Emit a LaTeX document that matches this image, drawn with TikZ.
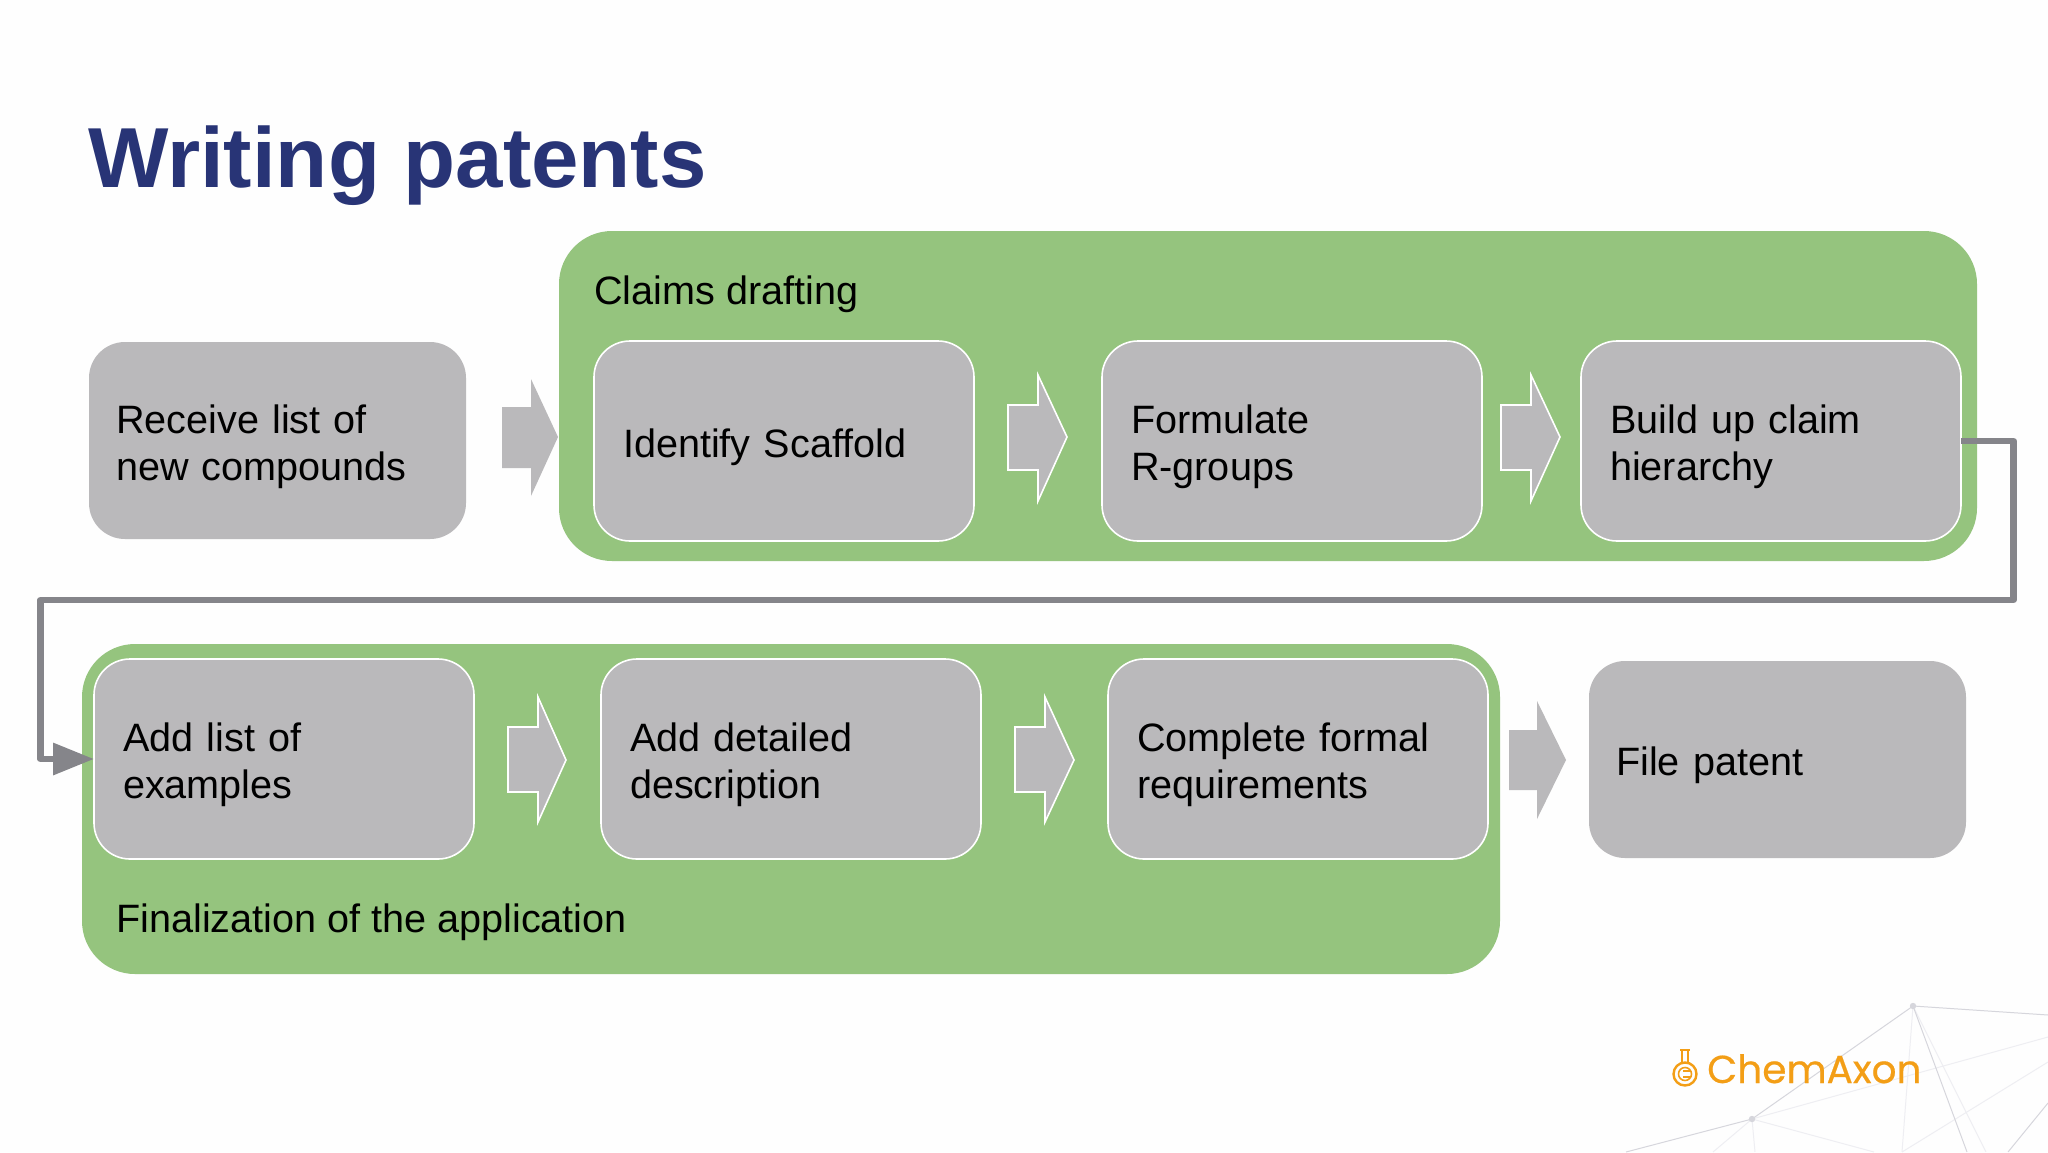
\documentclass[tikz,border=0pt]{standalone}
\usepackage{fontspec}
\setmainfont{Liberation Sans}
\newfontfamily\logofont[FakeBold=0.5]{Poppins}
\usetikzlibrary{arrows.meta}
\definecolor{panelgreen}{RGB}{149,196,126}
\definecolor{boxgrey}{RGB}{186,185,187}
\definecolor{linkgrey}{RGB}{133,133,138}
\definecolor{titlenavy}{RGB}{40,52,118}
\definecolor{logoorange}{RGB}{243,158,22}
\definecolor{netgrey}{RGB}{214,214,220}
\definecolor{netfaint}{RGB}{238,238,242}
\tikzset{
  x=1pt,y=-1pt,
  body/.style={font=\fontsize{39.6}{47}\selectfont,text=black},
  panel/.style={fill=panelgreen,rounded corners=53pt,anchor=north west,inner sep=0pt,outer sep=0pt,minimum width=1418pt,minimum height=330pt},
  stepbox/.style={body,fill=boxgrey,rounded corners=36pt,anchor=north west,inner xsep=29pt,inner ysep=0pt,outer sep=0pt,align=left,minimum height=200pt,text width=322pt,execute at begin node={\rule{0pt}{41pt}}},
  whitebox/.style={stepbox,draw=white,line width=1.6pt},
  plainbox/.style={stepbox,inner xsep=27pt,text width=323pt,minimum height=197pt},
  lbl/.style={body,anchor=base west,inner sep=0pt},
  chev/.style={fill=boxgrey,draw=white,line width=1.6pt,line join=miter},
  chevplain/.style={fill=boxgrey},
  link/.style={draw=linkgrey,line width=6.5pt,line join=round,-{Triangle[length=41pt,width=31pt,fill=linkgrey]}},
  netline/.style={draw=netgrey,line width=1pt},
  netlight/.style={draw=netfaint,line width=1pt},
}
% block arrow: style, x-tail, x-neck, x-tip, y-top, y-shaft-top, y-mid, y-shaft-bottom, y-bottom
\newcommand{\blockarrow}[9]{\path[#1] (#2,#6) -- (#3,#6) -- (#3,#5) -- (#4,#7) -- (#3,#9) -- (#3,#8) -- (#2,#8) -- cycle;}
\begin{document}
\begin{tikzpicture}
\useasboundingbox (0,0) rectangle (2048,1152);
\fill[white!99.5!black] (0,0) rectangle (2048,1152);
% background network
\coordinate (na) at (1913,1006);
\coordinate (nb) at (1752,1119);
\draw[netlight] (nb) -- (2048,1037);
\draw[netlight] (nb) -- (1713,1152);
\draw[netlight] (nb) -- (1755,1152);
\draw[netlight] (nb) -- (1874,1152);
\draw[netlight] (na) -- (1986,1152);
\draw[netlight] (na) -- (1902,1152);
\draw[netlight] (1902,1152) -- (2048,1062);
\draw[netline] (na) -- (2048,1015);
\draw[netline] (na) -- (nb);
\draw[netline] (nb) -- (1626,1152);
\draw[netline] (na) -- (1967,1152);
\draw[netline] (2008,1152) -- (2048,1103);
\fill[netgrey] (na) circle (3.2);
\fill[netgrey] (nb) circle (3.2);
% title
\node[anchor=base west,inner sep=0pt,text=titlenavy,font=\fontsize{85.2}{90}\selectfont\bfseries] (title) at (88,187) {Writing patents};
% panels
\node[panel] (claims) at (559,231) {};
\node[panel] (final) at (82,644) {};
\node[lbl] (claimslbl) at (594,304) {Claims drafting};
\node[lbl] (finallbl) at (116,932) {Finalization of the application};
% steps
\node[plainbox] (receive) at (89,342) {Receive list of\\new compounds};
\node[whitebox] (identify) at (594,341) {Identify Scaffold};
\node[whitebox] (rgroups) at (1102,341) {Formulate\\R-groups};
\node[whitebox] (hierarchy) at (1581,341) {Build up claim\\hierarchy};
\node[whitebox] (examples) at (94,659) {Add list of\\examples};
\node[whitebox] (description) at (601,659) {Add detailed\\description};
\node[whitebox] (formal) at (1108,659) {Complete formal\\requirements};
\node[plainbox] (file) at (1589,661) {File patent};
% block arrows
\blockarrow{chevplain}{502}{531}{558}{379}{407}{437}{468}{496}
\blockarrow{chev}{1008}{1038}{1067}{375}{405}{437}{470}{501}
\blockarrow{chev}{1501}{1531}{1560}{375}{405}{437}{470}{501}
\blockarrow{chev}{508}{538}{566}{697}{727}{760}{792}{822}
\blockarrow{chev}{1015}{1045}{1074}{697}{727}{760}{792}{822}
\blockarrow{chevplain}{1509}{1537}{1566}{701}{730}{760}{790}{819}
% connector
\coordinate (c1) at (2013.5,441);
\coordinate (c2) at (2013.5,600);
\coordinate (c3) at (40.5,600);
\coordinate (c4) at (40.5,759);
\draw[link] (hierarchy.east |- c1) -- (c1) -- (c2) -- (c3) -- (c4) -- (examples.west |- c4);
% logo
\node[anchor=base west,inner sep=0pt,text=logoorange,font=\logofont\fontsize{39}{44}\selectfont] (logo) at (1707,1083) {ChemAxon};
\begin{scope}[logoorange]
\draw[line width=2.4pt] (1685,1074) circle (11.5);
\draw[line width=2.2pt] (1680,1050) -- (1690,1050);
\draw[line width=2pt] (1682,1050) -- (1682,1063) (1688,1050) -- (1688,1063);
\draw[line width=1.6pt] (1685,1074) circle (6.5);
\fill (1683,1070) rectangle (1690,1072);
\fill (1683,1076) rectangle (1690,1078);
\end{scope}
\end{tikzpicture}
\end{document}
